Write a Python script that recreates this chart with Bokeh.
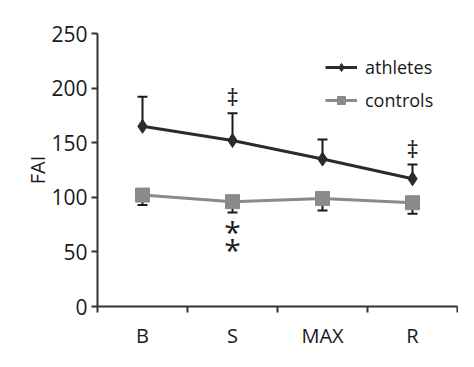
from bokeh.plotting import figure
from bokeh.models import (ColumnDataSource, Range1d, FixedTicker, Legend, LegendItem,
                          Whisker, TeeHead)
from bokeh.core.properties import value
from bokeh.embed import file_html
from bokeh.resources import INLINE

categories = ["B", "S", "MAX", "R"]
athletes = [165, 152, 135, 117]
athletes_sd = [27, 25, 18, 13]
controls = [102, 96, 99, 95]
controls_sd = [9, 10, 11, 10]
dagger_cats = ["S", "R"]
dagger_y = [192, 145]
star_cats = ["S", "S"]
star_y = [69, 52]
y_ticks = [0, 50, 100, 150, 200, 250]

FONT = "Open Sans"
pos = {c: i + 0.5 for i, c in enumerate(categories)}
xs = [pos[c] for c in categories]

p = figure(width=458, height=351, output_backend="svg", toolbar_location=None,
           x_range=Range1d(0, len(categories)), y_range=Range1d(0, 250),
           min_border_left=97, min_border_right=1, min_border_top=33, min_border_bottom=40)
p.grid.visible = False
p.outline_line_color = None
p.background_fill_color = "white"
p.border_fill_color = "white"

src_a = ColumnDataSource(dict(x=xs, y=athletes, up=[m + s for m, s in zip(athletes, athletes_sd)]))
src_c = ColumnDataSource(dict(x=xs, y=controls, lo=[m - s for m, s in zip(controls, controls_sd)]))

wa = Whisker(source=src_a, base="x", upper="up", lower="y", dimension="height",
             line_color="#1a1a1a", line_width=2,
             upper_head=TeeHead(size=10, line_color="#1a1a1a", line_width=2), lower_head=None)
wc = Whisker(source=src_c, base="x", upper="y", lower="lo", dimension="height",
             line_color="#1a1a1a", line_width=2,
             lower_head=TeeHead(size=10, line_color="#1a1a1a", line_width=2), upper_head=None)
p.add_layout(wa)
p.add_layout(wc)

la = p.line("x", "y", source=src_a, line_color="#2b2b2b", line_width=3)
ma = p.scatter("x", "y", source=src_a, marker="diamond", size=14, fill_color="#2b2b2b", line_color="#2b2b2b")
lc = p.line("x", "y", source=src_c, line_color="#8a8a8a", line_width=3)
mc = p.scatter("x", "y", source=src_c, marker="square", size=14, fill_color="#8a8a8a", line_color="#8a8a8a")

p.text(x=[pos[c] for c in dagger_cats], y=dagger_y, text=["‡"] * len(dagger_cats),
       text_align="center", text_baseline="middle", text_font=value(FONT),
       text_font_size="24px", text_color="#1a1a1a")
p.text(x=[pos[c] for c in star_cats], y=star_y, text=["*"] * len(star_cats),
       text_align="center", text_baseline="middle", text_font=value(FONT),
       text_font_size="30px", text_color="#1a1a1a")

# axes
xa = p.xaxis[0]
xa.ticker = FixedTicker(ticks=xs, minor_ticks=list(range(len(categories) + 1)))
xa.major_label_overrides = {x: c for x, c in zip(xs, categories)}
xa.major_tick_line_color = None
xa.minor_tick_out = 6
xa.minor_tick_in = 0
xa.minor_tick_line_width = 2
xa.minor_tick_line_color = "#333333"
xa.axis_line_width = 2
xa.axis_line_color = "#333333"
xa.major_label_text_font = FONT
xa.major_label_text_font_size = "20px"
xa.major_label_text_color = "#1a1a1a"
xa.major_label_standoff = 9

ya = p.yaxis[0]
ya.ticker = FixedTicker(ticks=y_ticks)
ya.minor_tick_line_color = None
ya.major_tick_out = 6
ya.major_tick_in = 0
ya.major_tick_line_width = 2
ya.major_tick_line_color = "#333333"
ya.axis_line_width = 2
ya.axis_line_color = "#333333"
ya.major_label_text_font = FONT
ya.major_label_text_font_size = "21px"
ya.major_label_text_color = "#1a1a1a"
ya.major_label_standoff = 4
ya.axis_label = "FAI"
ya.axis_label_text_font = FONT
ya.axis_label_text_font_size = "20px"
ya.axis_label_text_font_style = "normal"
ya.axis_label_text_color = "#1a1a1a"
ya.axis_label_standoff = -3

legend = Legend(items=[LegendItem(label="athletes", renderers=[la, ma]),
                       LegendItem(label="controls", renderers=[lc, mc])],
                location=(228, 194), padding=0, margin=0, spacing=9,
                glyph_width=32, glyph_height=20, label_height=20, label_standoff=8,
                label_text_font=FONT, label_text_font_size="18px", label_text_color="#1a1a1a",
                border_line_color=None, background_fill_alpha=0)
p.add_layout(legend)

open("out.html", "w").write(file_html(p, INLINE))
